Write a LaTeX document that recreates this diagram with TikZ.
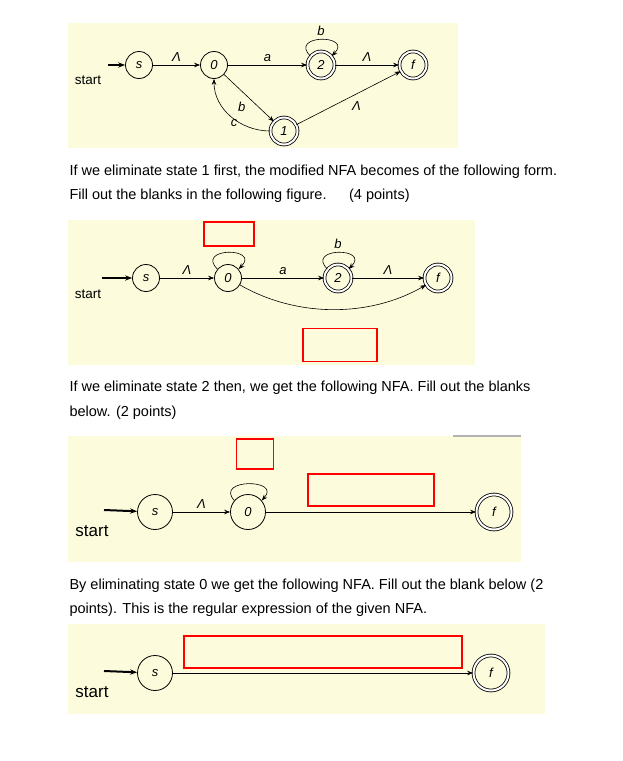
\documentclass[tikz,border=0pt]{standalone}
\usepackage{fontspec}
\setmainfont{Liberation Sans}
\usetikzlibrary{arrows.meta}
\definecolor{bgy}{HTML}{FCFCDC}
\tikzset{x=1pt,y=-1pt,
 st/.style={circle,draw,thick,minimum size=27pt,inner sep=0pt,font=\itshape\fontsize{13}{15}\selectfont},
 acc/.style={st,double,double distance=2pt},
 big/.style={minimum size=35pt},
 tr/.style={->,>={Stealth[length=6pt]},semithick},
 lb/.style={font=\itshape\fontsize{13}{15}\selectfont},
 blank/.style={draw=red,line width=1.3pt},
 para/.style={anchor=west,font=\fontsize{14.5}{16}\selectfont},
 startarr/.style={-{Stealth[length=7pt]},line width=2pt}}
\begin{document}
\begin{tikzpicture}
\useasboundingbox (0,0) rectangle (622,761);
\fill[white] (0,0) rectangle (622,761);
% panel 1
\fill[bgy] (68,23) rectangle (458,148);
\node[st] (s1) at (139,65) {s};
\node[st] (z1) at (214,65) {0};
\node[acc] (t1) at (321,65) {2};
\node[acc] (f1) at (413,65) {f};
\node[acc] (o1) at (284,131) {1};
\node[font=\fontsize{13.5}{15}\selectfont] (st1) at (88,80) {start};
\coordinate (a1) at (108,65);
\draw[startarr] (a1) -- (s1);
\draw[tr] (s1) -- node[lb,above]{Λ} (z1);
\draw[tr] (z1) -- node[lb,above]{a} (t1);
\draw[tr] (t1) -- node[lb,above]{Λ} (f1);
\draw[tr] (t1.140) .. controls +(-22,-22) and +(22,-22) .. node[lb,above]{b} (t1.40);
\draw[tr] (z1) -- node[lb,below left]{b} (o1);
\draw[tr] (o1) -- node[lb,below right]{Λ} (f1);
\draw[tr] (o1.west) to[out=180,in=-90] node[lb,left,pos=0.35]{c} (z1.south);
% text
\node[para] (p1) at (66,172) {If we eliminate state 1 first, the modified NFA becomes of the following form.};
\node[para] (p2) at (66,196) {Fill out the blanks in the following figure.\quad\ \ (4 points)};
% panel 2
\fill[bgy] (68,220) rectangle (475,365);
\node[st] (s2) at (146,278) {s};
\node[st] (z2) at (228,278) {0};
\node[acc] (t2) at (338,278) {2};
\node[acc] (f2) at (438,278) {f};
\node[font=\fontsize{13.5}{15}\selectfont] (st2) at (88,294) {start};
\coordinate (a2) at (102,278);
\draw[startarr] (a2) -- (s2);
\draw[tr] (s2) -- node[lb,above]{Λ} (z2);
\draw[tr] (z2) -- node[lb,above]{a} (t2);
\draw[tr] (t2) -- node[lb,above]{Λ} (f2);
\draw[tr] (t2.140) .. controls +(-22,-22) and +(22,-22) .. node[lb,above]{b} (t2.40);
\draw[tr] (z2.140) .. controls +(-22,-22) and +(22,-22) .. (z2.40);
\draw[tr] (z2) to[out=-30,in=-150,looseness=0.9] (f2);
\node[blank,minimum width=50pt,minimum height=24pt] (r21) at (229,234) {};
\node[blank,minimum width=74pt,minimum height=33pt] (r22) at (340,345) {};
% text
\node[para] (p3) at (66,388) {If we eliminate state 2 then, we get the following NFA. Fill out the blanks};
\node[para] (p4) at (66,413) {below. (2 points)};
% panel 3
\fill[bgy] (68,436) rectangle (521,562);
\draw[gray!60,line width=2pt] (453,436) -- (521,436);
\node[st,big] (s3) at (155,512) {s};
\node[st,big] (z3) at (248,512) {0};
\node[acc,big] (f3) at (494,512) {f};
\node[font=\fontsize{17}{19}\selectfont] (st3) at (92,531) {start};
\coordinate (a3) at (104,510);
\draw[startarr] (a3) -- (s3);
\draw[tr] (s3) -- node[lb,above]{Λ} (z3);
\draw[tr] (z3) -- (f3);
\draw[tr] (z3.140) .. controls +(-20,-22) and +(20,-22) .. (z3.40);
\node[blank,minimum width=37pt,minimum height=30pt] (r31) at (255,454) {};
\node[blank,minimum width=126pt,minimum height=32pt] (r32) at (371,490) {};
% text
\node[para] (p5) at (66,586) {By eliminating state 0 we get the following NFA. Fill out the blank below (2};
\node[para] (p6) at (66,610) {points). This is the regular expression of the given NFA.};
% panel 4
\fill[bgy] (68,624) rectangle (545,714);
\node[st,big] (s4) at (155,673) {s};
\node[acc,big] (f4) at (491,673) {f};
\node[font=\fontsize{17}{19}\selectfont] (st4) at (92,692) {start};
\coordinate (a4) at (104,671);
\draw[startarr] (a4) -- (s4);
\draw[tr] (s4) -- (f4);
\node[blank,minimum width=278pt,minimum height=32pt] (r41) at (323,652) {};
\end{tikzpicture}
\end{document}
